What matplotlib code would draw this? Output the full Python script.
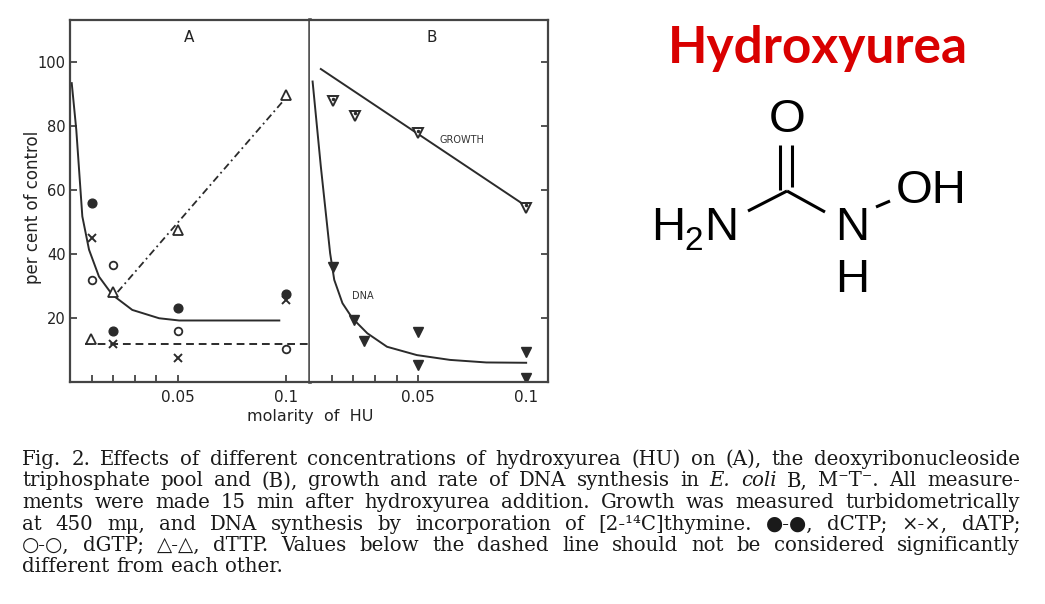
import matplotlib
matplotlib.use('Agg')
import matplotlib.pyplot as plt
import numpy as np

# panel A: nucleotide pools, per cent of control vs molarity of HU
dCTP_x = [0.01, 0.02, 0.05, 0.1]
dCTP_y = [56, 16, 23, 27.5]
dATP_x = [0.01, 0.02, 0.05, 0.1]
dATP_y = [45, 12, 7.5, 25.5]
dGTP_x = [0.01, 0.02, 0.05, 0.1]
dGTP_y = [31.7, 36.4, 16, 10.3]
dTTP_x = [0.0095, 0.02, 0.05, 0.1]
dTTP_y = [13.5, 28, 47.5, 89.7]
# hand drawn curve through the pools
poolCurve_x = [0.0008, 0.0029, 0.0057, 0.0088, 0.0134, 0.0196, 0.0288, 0.0412, 0.0505, 0.0968]
poolCurve_y = [93.3, 78.8, 51.7, 41.3, 32.9, 27.2, 22.5, 19.9, 19.2, 19.2]
noiseLevel = 12

# panel B: growth and DNA synthesis
growth_x = [0.0104, 0.0206, 0.05, 0.1]
growth_y = [87.6, 83.1, 77.7, 54.3]
growthLine_x = [0.005, 0.099]
growthLine_y = [97.7, 55.3]
dna_x = [0.0104, 0.0203, 0.0249, 0.05, 0.05, 0.1, 0.1]
dna_y = [36.0, 19.4, 12.9, 15.7, 5.3, 9.5, 1.2]
dnaCurve_x = [0.0012, 0.005, 0.0093, 0.0112, 0.015, 0.0196, 0.0265, 0.0356, 0.0494, 0.0647, 0.0815, 0.0999]
dnaCurve_y = [93.8, 67.3, 40.2, 31.9, 24.6, 19.9, 15.2, 11.0, 8.4, 6.9, 6.1, 6.0]

yTicks = [20, 40, 60, 80, 100]
xMajor = [0.05, 0.1]
xMinor = [0.01, 0.02, 0.03, 0.04]

caption = [
    "Fig. 2. Effects of different concentrations of hydroxyurea (HU) on (A), the deoxyribonucleoside",
    "triphosphate pool and (B), growth and rate of DNA synthesis in E. coli B, M\u207bT\u207b. All measure-",
    "ments were made 15 min after hydroxyurea addition. Growth was measured turbidometrically",
    "at 450 m\u03bc, and DNA synthesis by incorporation of [2-\u00b9\u2074C]thymine. \u25cf-\u25cf, dCTP; \u00d7-\u00d7, dATP;",
    "\u25cb-\u25cb, dGTP; \u25b3-\u25b3, dTTP. Values below the dashed line should not be considered significantly",
    "different from each other.",
]

ink = '#2b2b2b'

fig = plt.figure(figsize=(10.45, 6.04), dpi=100)

axA = fig.add_axes([70/1045, 1-382/604, 240/1045, 362/604])
axB = fig.add_axes([310/1045, 1-382/604, 238/1045, 362/604])

for ax in (axA, axB):
    ax.set_ylim(0, 113)
    for s in ax.spines.values():
        s.set_color('#444444')
        s.set_linewidth(1.6)
    ax.set_xticks(xMajor)
    ax.set_xticklabels(['0.05', '0.1'])
    ax.set_xticks(xMinor, minor=True)
    ax.tick_params(axis='x', which='both', direction='in', length=5, width=1.3,
                   colors='#444444', labelcolor='#222222', labelsize=11, pad=6)

axA.set_xlim(0, 0.111)
axB.set_xlim(0, 0.11)

axA.set_yticks(yTicks)
axA.set_yticklabels([str(v) for v in yTicks])
axA.tick_params(axis='y', direction='in', length=5, width=1.3, colors='#444444',
                labelcolor='#222222', labelsize=10.5, pad=3)
axA.spines['right'].set_linewidth(2.6)
axA.spines['right'].set_color('#555555')

axB.spines['left'].set_visible(False)
axB.yaxis.tick_right()
axB.set_yticks(yTicks)
axB.tick_params(axis='y', direction='in', length=5, width=1.3, colors='#444444',
                labelright=False)

# panel A
axA.plot(poolCurve_x, poolCurve_y, color=ink, lw=1.4)
axA.plot([0.007, 0.111], [noiseLevel, noiseLevel], color=ink, lw=1.4,
         linestyle=(0, (4, 2.5)), clip_on=False)
fit = np.polyfit(dTTP_x[1:], dTTP_y[1:], 1)
lx = np.array([0.022, 0.099])
axA.plot(lx, np.polyval(fit, lx), color=ink, lw=1.3, linestyle=(0, (4, 2, 1, 2)))
axA.plot(dCTP_x, dCTP_y, 'o', color=ink, ms=6.3)
axA.plot(dATP_x, dATP_y, 'x', color=ink, ms=6, mew=1.4)
axA.plot(dGTP_x, dGTP_y, 'o', mfc='white', mec=ink, ms=5.5, mew=1.3)
axA.plot(dTTP_x, dTTP_y, '^', mfc='white', mec=ink, ms=6.5, mew=1.3)
axA.text(0.055, 107.5, 'A', ha='center', va='center', fontsize=11, color='#222222')
axA.set_ylabel('per cent of control', fontsize=12, color='#222222', va='center')
axA.yaxis.set_label_coords(-0.155, 0.483)

# panel B
axB.plot(growthLine_x, growthLine_y, color=ink, lw=1.4)
axB.plot(dnaCurve_x, dnaCurve_y, color=ink, lw=1.4)
axB.plot(growth_x, growth_y, 'v', mfc='white', mec=ink, ms=6.5, mew=1.4)
axB.plot(growth_x, [v + 0.8 for v in growth_y], '.', color=ink, ms=3)
axB.plot(dna_x, dna_y, 'v', color=ink, ms=6.5)
axB.text(0.0564, 107.5, 'B', ha='center', va='center', fontsize=11, color='#222222')
axB.text(0.070, 75.6, 'GROWTH', ha='center', va='center', fontsize=7, color='#333333')
axB.text(0.0242, 26.7, 'DNA', ha='center', va='center', fontsize=7, color='#333333')

# overlay in pixel units for the rest of the slide
ov = fig.add_axes([0, 0, 1, 1], zorder=-1)
ov.set_xlim(0, 1045)
ov.set_ylim(604, 0)
ov.axis('off')

ov.text(310, 416, 'molarity  of  HU', ha='center', va='center', fontsize=11.5, color='#222222')

ov.text(818, 49, 'Hydroxyurea', ha='center', va='center', fontsize=37,
        fontweight='bold', family='Lato', color='#D90000')

# hydroxyurea structure
bonds = [
    [(780, 145), (780, 190)],
    [(792, 145), (792, 187)],
    [(787, 191), (748, 211)],
    [(787, 191), (825, 212)],
    [(876, 207), (890, 201)],
]
for (x0, y0), (x1, y1) in bonds:
    ov.plot([x0, x1], [y0, y1], color='black', lw=2.2, solid_capstyle='butt')
atoms = [('O', 787, 120), ('H', 668, 228), ('N', 721, 228), ('N', 852, 228),
         ('OH', 931, 191), ('H', 852, 280)]
for lab, x, y in atoms:
    ov.text(x, y, lab, ha='center', va='center', fontsize=34, family='Liberation Sans')
ov.text(694, 241, '2', ha='center', va='center', fontsize=24, family='Liberation Sans')

# caption, justified word by word
fam = ['DejaVu Serif', 'DejaVu Sans']
left, right = 22, 1020
renderer = fig.canvas.get_renderer()
for i, line in enumerate(caption):
    base = 465 + i * 21.5
    words = line.split(' ')
    arts = []
    for w in words:
        style = 'italic' if w in ('E.', 'coli') else 'normal'
        t = ov.text(0, base, w, ha='left', va='baseline', fontsize=14.2,
                    family=fam, style=style, color='#1a1a1a')
        arts.append(t)
    widths = [a.get_window_extent(renderer).width for a in arts]
    if i < len(caption) - 1:
        gap = (right - left - sum(widths)) / (len(words) - 1)
    else:
        gap = 7
    x = left
    for a, w in zip(arts, widths):
        a.set_x(x)
        x += w + gap

fig.savefig('out.png', dpi=100)
